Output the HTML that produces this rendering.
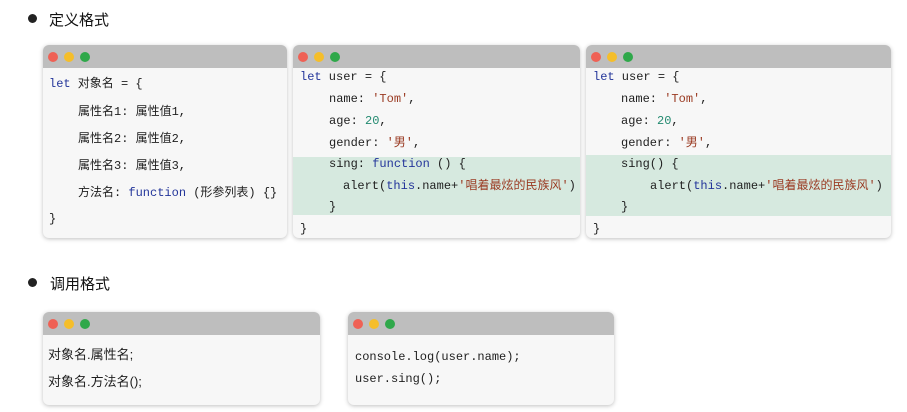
<!DOCTYPE html>
<html><head><meta charset="utf-8"><style>
body{margin:0;width:907px;height:412px;background:#fff;position:relative;overflow:hidden;font-family:"Liberation Sans","Noto Sans CJK SC",sans-serif;}
.a{position:absolute;white-space:pre;}
.h{font-size:15px;color:#111;}
.dotb{position:absolute;width:9px;height:9px;border-radius:50%;background:#222;}
.box{position:absolute;background:#f7f7f7;border-radius:6px;box-shadow:0 1px 4px rgba(0,0,0,.25);overflow:hidden;}
.bar{position:absolute;left:0;right:0;top:0;height:23px;background:#bebebe;}
.d{position:absolute;top:7px;width:10px;height:10px;border-radius:50%;}
.r{background:#ef6155}.y{background:#f5be2a}.g{background:#2fa84a}
.band{position:absolute;left:0;right:0;background:#d6e9df;}
.m{font-family:"Liberation Mono","Noto Sans CJK SC",monospace;font-size:12px;color:#1e1e1e;line-height:14px;}
.k{color:#23359a}.s{color:#9a3a22}.n{color:#238a70}
.c{font-size:13px;color:#1e1e1e;line-height:14px;}
</style></head><body>
<div class="dotb" style="left:28px;top:14px"></div>
<div class="a h" style="left:49px;top:9px">定义格式</div>
<div class="dotb" style="left:28px;top:278px"></div>
<div class="a h" style="left:50px;top:273px">调用格式</div>

<div class="box" style="left:43px;top:45px;width:244px;height:193px">
<div class="bar"><div class="d r" style="left:5px"></div><div class="d y" style="left:21px"></div><div class="d g" style="left:37px"></div></div>
<div class="a m" style="left:6px;top:32px"><span class="k">let</span> 对象名 = {</div>
<div class="a m" style="left:35px;top:60px">属性名1: 属性值1,</div>
<div class="a m" style="left:35px;top:87px">属性名2: 属性值2,</div>
<div class="a m" style="left:35px;top:114px">属性名3: 属性值3,</div>
<div class="a m" style="left:35px;top:141px">方法名: <span class="k">function</span> (形参列表) {}</div>
<div class="a m" style="left:6px;top:167px">}</div>
</div>

<div class="box" style="left:293px;top:45px;width:287px;height:193px">
<div class="bar"><div class="d r" style="left:5px"></div><div class="d y" style="left:21px"></div><div class="d g" style="left:37px"></div></div>
<div class="band" style="top:112px;height:58px"></div>
<div class="a m" style="left:7px;top:25px"><span class="k">let</span> user = {</div>
<div class="a m" style="left:36px;top:47px">name: <span class="s">'Tom'</span>,</div>
<div class="a m" style="left:36px;top:69px">age: <span class="n">20</span>,</div>
<div class="a m" style="left:36px;top:91px">gender: <span class="s">'男'</span>,</div>
<div class="a m" style="left:36px;top:112px">sing: <span class="k">function</span> () {</div>
<div class="a m" style="left:50px;top:134px">alert(<span class="k">this</span>.name+<span class="s">'唱着最炫的民族风'</span>)</div>
<div class="a m" style="left:36px;top:155px">}</div>
<div class="a m" style="left:7px;top:177px">}</div>
</div>

<div class="box" style="left:586px;top:45px;width:305px;height:193px">
<div class="bar"><div class="d r" style="left:5px"></div><div class="d y" style="left:21px"></div><div class="d g" style="left:37px"></div></div>
<div class="band" style="top:110px;height:61px"></div>
<div class="a m" style="left:7px;top:25px"><span class="k">let</span> user = {</div>
<div class="a m" style="left:35px;top:47px">name: <span class="s">'Tom'</span>,</div>
<div class="a m" style="left:35px;top:69px">age: <span class="n">20</span>,</div>
<div class="a m" style="left:35px;top:91px">gender: <span class="s">'男'</span>,</div>
<div class="a m" style="left:35px;top:112px">sing() {</div>
<div class="a m" style="left:64px;top:134px">alert(<span class="k">this</span>.name+<span class="s">'唱着最炫的民族风'</span>)</div>
<div class="a m" style="left:35px;top:155px">}</div>
<div class="a m" style="left:7px;top:177px">}</div>
</div>

<div class="box" style="left:43px;top:312px;width:277px;height:93px">
<div class="bar"><div class="d r" style="left:5px"></div><div class="d y" style="left:21px"></div><div class="d g" style="left:37px"></div></div>
<div class="a c" style="left:5px;top:36px">对象名.属性名;</div>
<div class="a c" style="left:5px;top:63px">对象名.方法名();</div>
</div>

<div class="box" style="left:348px;top:312px;width:266px;height:93px">
<div class="bar"><div class="d r" style="left:5px"></div><div class="d y" style="left:21px"></div><div class="d g" style="left:37px"></div></div>
<div class="a m" style="left:7px;top:38px">console.log(user.name);</div>
<div class="a m" style="left:7px;top:60px">user.sing();</div>
</div>
</body></html>
